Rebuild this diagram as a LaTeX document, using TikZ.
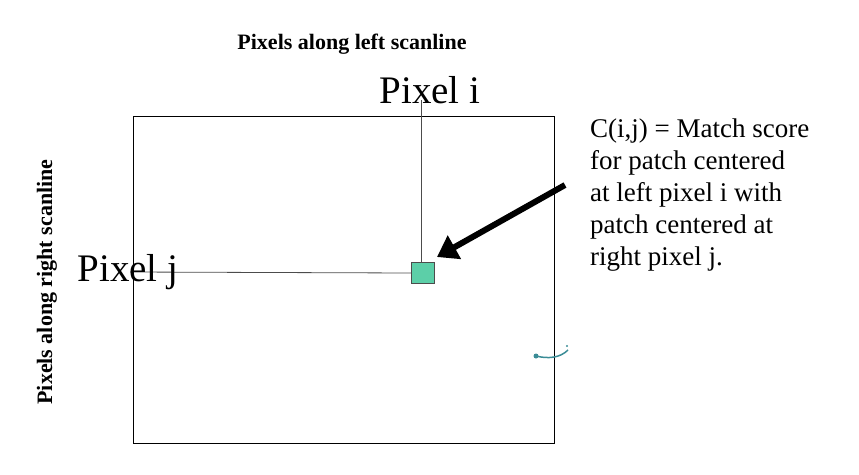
\documentclass[tikz,border=0pt]{standalone}
\usepackage{fontspec}
\setmainfont{Liberation Serif}
\usetikzlibrary{arrows.meta}
\definecolor{teal1}{HTML}{5CCFA8}
\definecolor{squig}{HTML}{3A8C96}
\begin{document}
\begin{tikzpicture}[x=1pt,y=-1pt,
  lbl/.style={inner sep=0pt,font=\bfseries\fontsize{22}{24}\selectfont},
  big/.style={inner sep=0pt,font=\fontsize{39}{41}\selectfont},
  desc/.style={inner sep=0pt,anchor=north west,align=left,font=\fontsize{27}{32}\selectfont}]
\useasboundingbox (0,0) rectangle (859,474);
\draw[line width=1pt] (133,116) rectangle (554,443);
\node[lbl] (top) at (352,44) {Pixels along left scanline};
\node[lbl,rotate=90] (side) at (47,282) {Pixels along right scanline};
\coordinate (vt) at (421,100);
\coordinate (hl) at (130,272);
\node[draw=black!70,line width=1pt,fill=teal1,minimum width=23pt,minimum height=21pt,inner sep=0pt] (sq) at (423,273) {};
\draw[black!70,line width=0.8pt] (vt) -- (sq.north -| vt);
\draw[black!70,line width=0.8pt] (hl) -- (sq.west);
\node[big] (pi) at (430,90) {Pixel i};
\node[big] (pj) at (128,272) {Pixel j};
\node[desc] (txt) at (590,119) {C(i,j) = Match score\\for patch centered\\at left pixel i with\\patch centered at\\right pixel j.};
\coordinate (as) at (565,185);
\draw[line width=6pt,-{Triangle[length=20pt,width=26pt]}] (as) -- (437,257);
\coordinate (q1) at (536,356);
\draw[squig,line width=1.5pt] (q1) .. controls (548,359) and (560,358) .. (568,350);
\fill[squig] (q1) circle (2.5);
\fill[squig] (567,346) circle (1.2);
\end{tikzpicture}
\end{document}
